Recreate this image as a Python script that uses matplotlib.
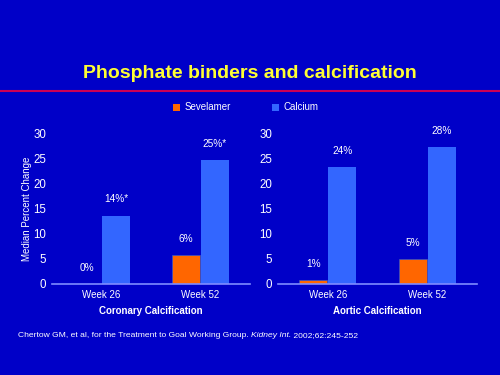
import matplotlib
matplotlib.use('Agg')
import matplotlib.pyplot as plt
from matplotlib.patches import Rectangle
from matplotlib.lines import Line2D
import numpy as np

plt.rcParams['font.family'] = ['Liberation Sans', 'DejaVu Sans']

categories = ['Week 26', 'Week 52']
series = ['Sevelamer', 'Calcium']

coronary_sev = [0.0, 5.8]
coronary_cal = [13.6, 24.7]
coronary_sev_labels = ['0%', '6%']
coronary_cal_labels = ['14%*', '25%*']

aortic_sev = [0.8, 4.9]
aortic_cal = [23.2, 27.2]
aortic_sev_labels = ['1%', '5%']
aortic_cal_labels = ['24%', '28%']

yticks = [0, 5, 10, 15, 20, 25, 30]

BG = '#0000C8'
ORANGE = '#FF6600'
BLUE = '#3366FF'
AXIS = '#7F8CFF'
TXT = '#FFFFFF'

fig = plt.figure(figsize=(5, 3.75), dpi=100, facecolor=BG)

fig.text(0.5, 1 - 73 / 375, 'Phosphate binders and calcification',
         ha='center', va='center', color='#FFFF33', fontsize=14,
         fontweight='bold')
fig.add_artist(Line2D([0, 1], [1 - 91 / 375] * 2, color='#CC0055', lw=1.5))

# legend
ly = 1 - 107 / 375
fig.add_artist(Rectangle((173 / 500, ly - 0.011), 0.014, 0.02,
                         facecolor=ORANGE, edgecolor='none'))
fig.text(185 / 500, ly, series[0], color=TXT, fontsize=7, va='center')
fig.add_artist(Rectangle((272 / 500, ly - 0.011), 0.014, 0.02,
                         facecolor=BLUE, edgecolor='none'))
fig.text(284 / 500, ly, series[1], color=TXT, fontsize=7, va='center')


def panel(rect, sev, cal, sev_lab, cal_lab, xlabel, ylabel=None):
    ax = fig.add_axes(rect)
    ax.set_facecolor(BG)
    x = np.arange(len(categories))
    w = 0.28
    b1 = ax.bar(x - 0.145, sev, w, color=ORANGE, edgecolor='#3355CC', lw=0.5)
    b2 = ax.bar(x + 0.145, cal, w, color=BLUE, edgecolor='none')
    for bars, labs in ((b1, sev_lab), (b2, cal_lab)):
        for b, t in zip(bars, labs):
            ax.annotate(t, (b.get_x() + b.get_width() / 2, b.get_height()),
                        xytext=(0, 8), textcoords='offset points',
                        ha='center', va='bottom', color=TXT, fontsize=7.3)
    ax.set_xlim(-0.5, 1.5)
    ax.set_ylim(0, 30)
    ax.set_yticks(yticks)
    ax.set_xticks(x)
    ax.set_xticklabels(categories)
    ax.tick_params(length=0, colors=TXT, labelsize=7)
    ax.tick_params(axis='y', pad=4, labelsize=8.3)
    ax.tick_params(axis='x', pad=4)
    for s in ('top', 'right', 'left'):
        ax.spines[s].set_visible(False)
    ax.spines['bottom'].set_color(AXIS)
    ax.spines['bottom'].set_linewidth(1.2)
    ax.set_xlabel(xlabel, color=TXT, fontsize=7, fontweight='bold', labelpad=5)
    if ylabel:
        ax.set_ylabel(ylabel, color=TXT, fontsize=7)
        ax.yaxis.set_label_coords(-19.5 / 198, 0.5)
    return ax


bottom = 1 - 284 / 375
height = (284 - 133) / 375
panel([52 / 500, bottom, 198 / 500, height], coronary_sev, coronary_cal,
      coronary_sev_labels, coronary_cal_labels, 'Coronary Calcification',
      'Median Percent Change')
panel([278 / 500, bottom, 199 / 500, height], aortic_sev, aortic_cal,
      aortic_sev_labels, aortic_cal_labels, 'Aortic Calcification')

# reference line, with italic journal name
parts = [('Chertow GM, et al, for the Treatment to Goal Working Group. ', 'normal'),
         ('Kidney Int.', 'italic'),
         (' 2002;62:245-252', 'normal')]
fig.canvas.draw()
r = fig.canvas.get_renderer()
xpos = 18 / 500
for s, style in parts:
    t = fig.text(xpos, 1 - 337 / 375, s, color=TXT, fontsize=6.1,
                 va='baseline', style=style)
    bb = t.get_window_extent(renderer=r)
    xpos += bb.width / 500

plt.savefig('out.png', dpi=100, facecolor=BG)
